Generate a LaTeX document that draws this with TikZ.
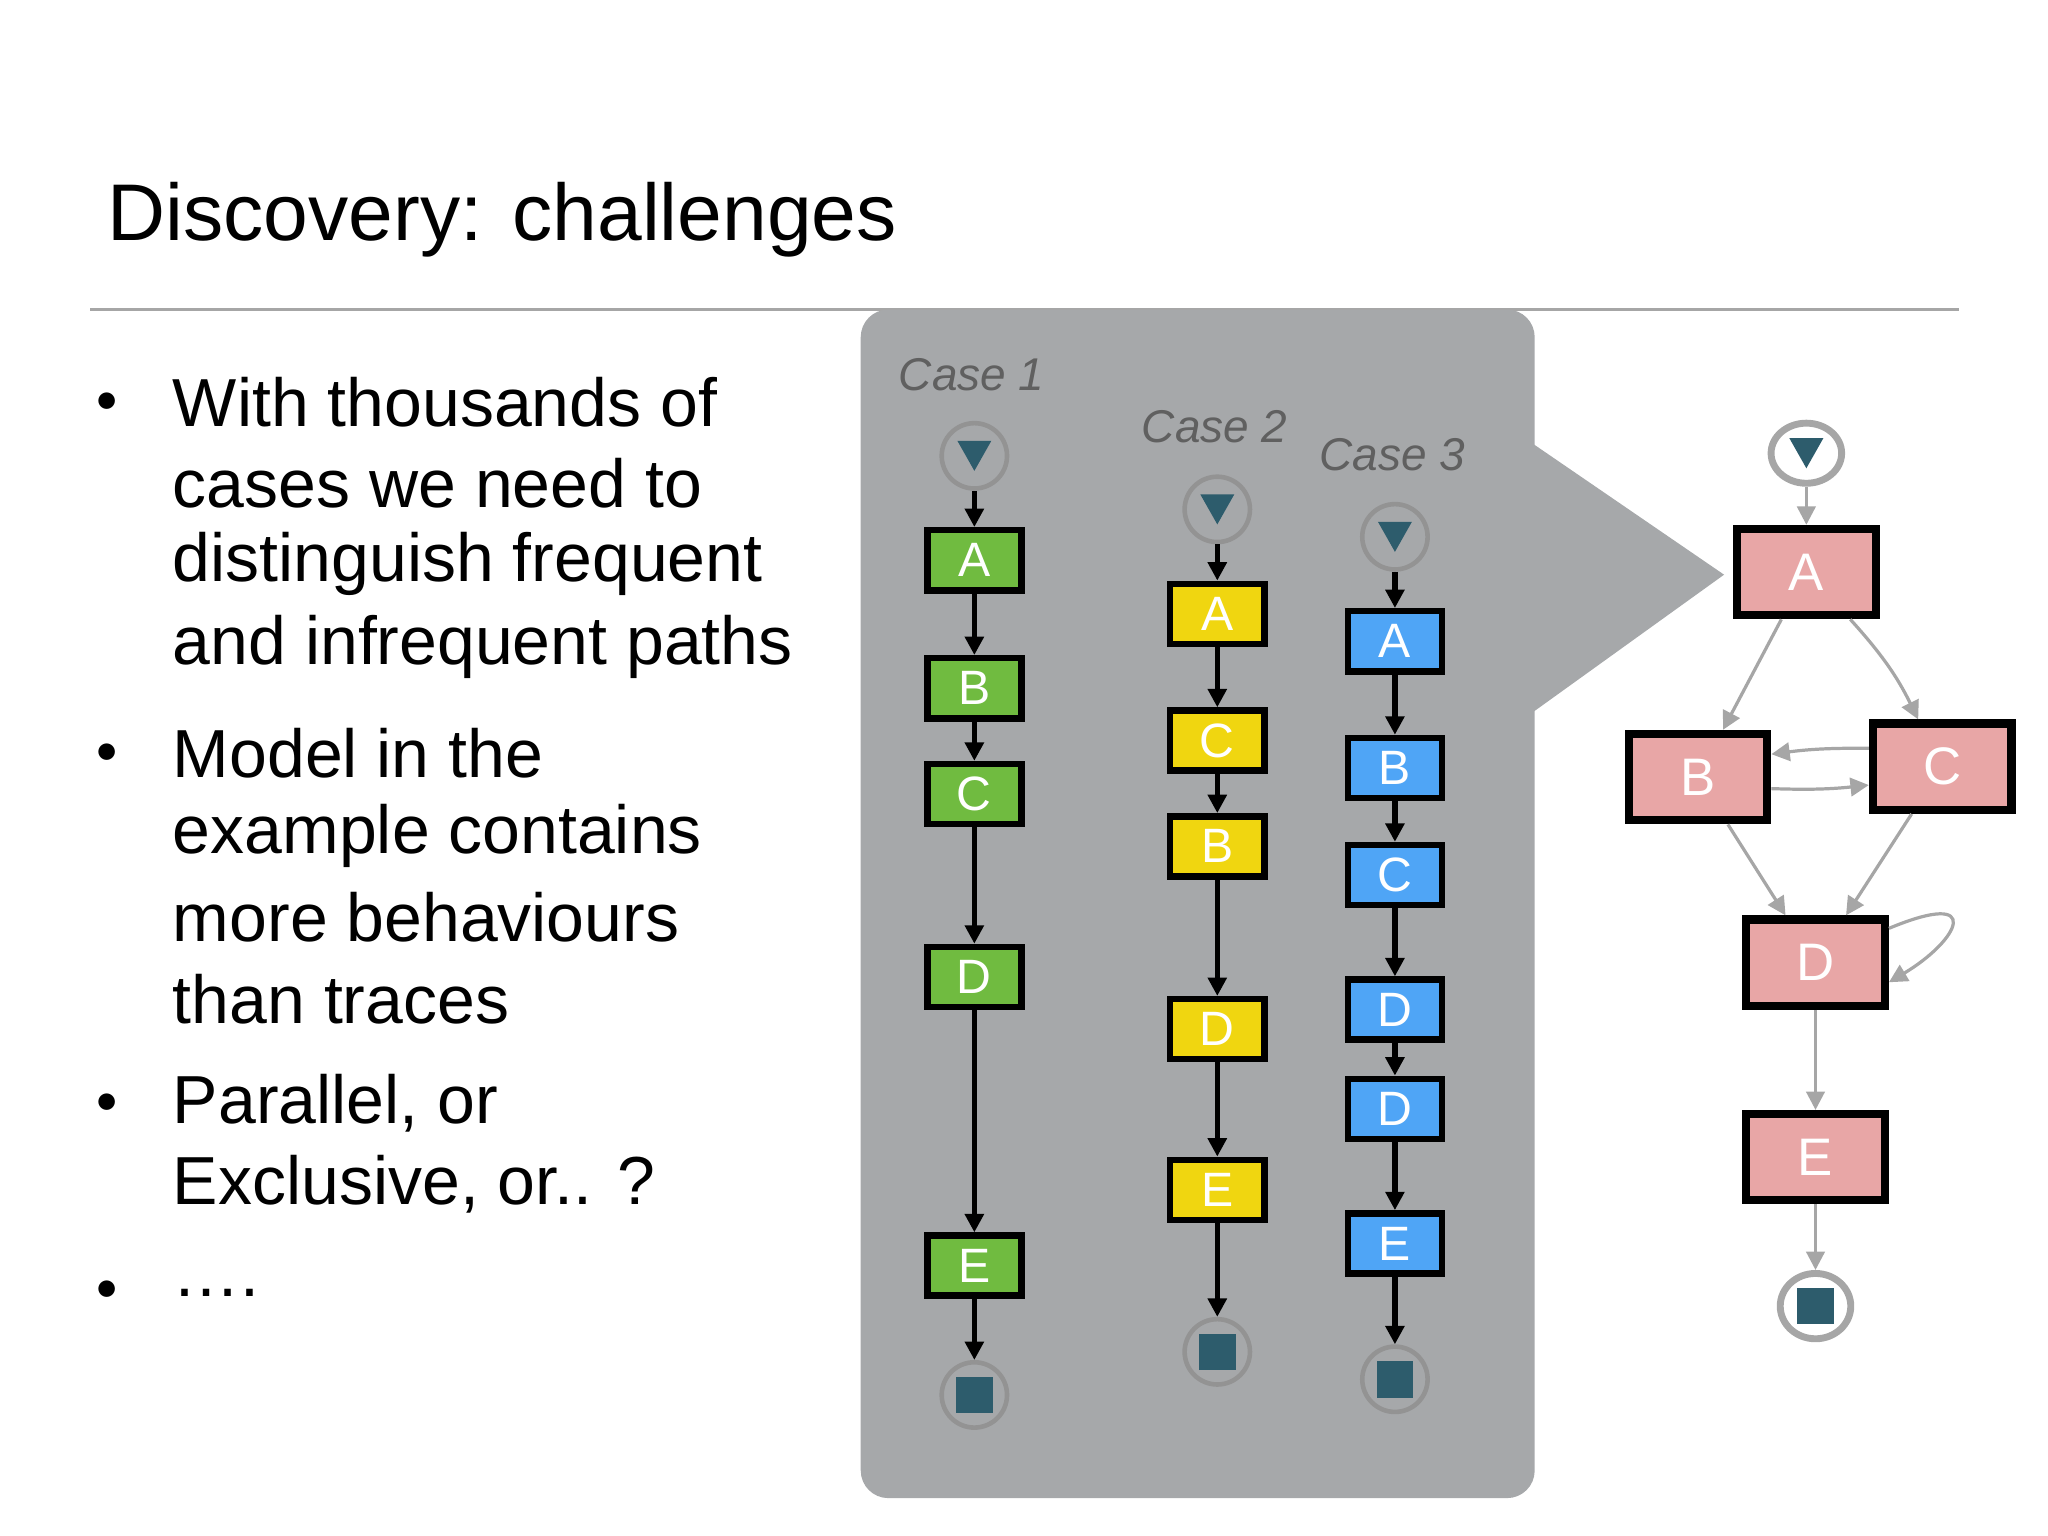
\documentclass[tikz,border=0pt]{standalone}
\usepackage{fontspec}
\setmainfont{Liberation Sans}
\usetikzlibrary{shapes.geometric,arrows.meta}
\definecolor{panelgray}{RGB}{166,168,170}
\definecolor{startblue}{RGB}{45,92,108}
\definecolor{caseGreen}{RGB}{112,187,64}
\definecolor{caseYellow}{RGB}{240,214,16}
\definecolor{caseBlue}{RGB}{79,165,246}
\definecolor{modelPink}{RGB}{232,166,166}
\tikzset{
  act/.style={draw=black,line width=1.4pt,minimum width=0.72cm,minimum height=0.46cm,inner sep=0pt,text=white,font=\fontsize{10.5}{10.5}\selectfont},
  mact/.style={draw=black,line width=1.8pt,fill=modelPink,minimum width=1.06cm,minimum height=0.66cm,inner sep=0pt,text=white,font=\fontsize{11.5}{11.5}\selectfont},
  evt/.style={circle,draw=gray!85,line width=1pt,minimum size=0.5cm,inner sep=0pt},
  flow/.style={-{Triangle[length=4pt,width=4pt]},line width=1.2pt},
  mflow/.style={-{Triangle[length=4pt,width=4pt]},draw=gray!70,line width=0.7pt},
  bul/.style={anchor=west,font=\fontsize{14.8}{14.8}\selectfont},
}
\newcommand{\starttri}{\tikz[x=1cm,y=1cm]\fill[startblue] (-0.13,0.1) -- (0.13,0.1) -- (0,-0.13) -- cycle;}
\newcommand{\stopsq}{\tikz[x=1cm,y=1cm]\fill[startblue] (0,0) rectangle (0.28,0.28);}
\begin{document}
\begin{tikzpicture}[x=0.01cm,y=-0.01cm]
  \useasboundingbox (0,0) rectangle (1568,1176);
  % title and rule
  \node[anchor=west,font=\fontsize{17.5}{17.5}\selectfont] (title) at (70,168) {Discovery: challenges};
  \draw[gray!70,line width=0.6pt] (69,237) -- (1500,237);

  % bullets
  \foreach \y in {308,577,845,988}
    \node[font=\small] at (82,\y) {$\bullet$};
  \node[bul] (t1) at (120,308) {With thousands of};
  \node[bul] at (120,370) {cases we need to};
  \node[bul] at (120,432) {distinguish frequent};
  \node[bul] at (120,495) {and infrequent paths};
  \node[bul] (t2) at (120,577) {Model in the};
  \node[bul] at (120,640) {example contains};
  \node[bul] at (120,702) {more behaviours};
  \node[bul] at (120,765) {than traces};
  \node[bul] (t3) at (120,845) {Parallel, or};
  \node[bul] at (120,907) {Exclusive, or.. ?};
  \node[bul] (t4) at (120,990) {\dots.};

  % gray panel with pointer
  \fill[panelgray,rounded corners=6pt] (659,237) rectangle (1175,1147);
  \fill[panelgray] (1174,340) -- (1320,440) -- (1174,545) -- cycle;

  % case labels
  \foreach \x/\y/\n in {744/287/1,930/327/2,1066/348/3}
    \node[text=gray!75!black,font=\itshape\fontsize{10}{10}\selectfont] (lab\n) at (\x,\y) {Case \n};

  % Case 1
  \node[evt] (s1) at (746,349) {\starttri};
  \node[act,fill=caseGreen] (a1) at (746,429) {A};
  \node[act,fill=caseGreen] (b1) at (746,527) {B};
  \node[act,fill=caseGreen] (c1) at (746,608) {C};
  \node[act,fill=caseGreen] (d1) at (746,748) {D};
  \node[act,fill=caseGreen] (e1) at (746,969) {E};
  \node[evt] (f1) at (746,1068) {\stopsq};
  \foreach \u/\v in {s1/a1,a1/b1,b1/c1,c1/d1,d1/e1,e1/f1}
    \draw[flow] (\u) -- (\v);

  % Case 2
  \node[evt] (s2) at (932,390) {\starttri};
  \node[act,fill=caseYellow] (a2) at (932,470) {A};
  \node[act,fill=caseYellow] (c2) at (932,567) {C};
  \node[act,fill=caseYellow] (b2) at (932,648) {B};
  \node[act,fill=caseYellow] (d2) at (932,788) {D};
  \node[act,fill=caseYellow] (e2) at (932,911) {E};
  \node[evt] (f2) at (932,1035) {\stopsq};
  \foreach \u/\v in {s2/a2,a2/c2,c2/b2,b2/d2,d2/e2,e2/f2}
    \draw[flow] (\u) -- (\v);

  % Case 3
  \node[evt] (s3) at (1068,411) {\starttri};
  \node[act,fill=caseBlue] (a3) at (1068,491) {A};
  \node[act,fill=caseBlue] (b3) at (1068,588) {B};
  \node[act,fill=caseBlue] (c3) at (1068,670) {C};
  \node[act,fill=caseBlue] (d3) at (1068,773) {D};
  \node[act,fill=caseBlue] (dd3) at (1068,849) {D};
  \node[act,fill=caseBlue] (e3) at (1068,952) {E};
  \node[evt] (f3) at (1068,1056) {\stopsq};
  \foreach \u/\v in {s3/a3,a3/b3,b3/c3,c3/d3,d3/dd3,dd3/e3,e3/f3}
    \draw[flow] (\u) -- (\v);

  % discovered model
  \node[ellipse,draw=gray!70,line width=1.5pt,fill=white,minimum width=0.54cm,minimum height=0.46cm,inner sep=0pt] (ms) at (1383,347) {\starttri};
  \node[mact] (ma) at (1383,438) {A};
  \node[mact] (mb) at (1300,595) {B};
  \node[mact] (mc) at (1487,587) {C};
  \node[mact] (md) at (1390,737) {D};
  \node[mact] (me) at (1390,886) {E};
  \node[ellipse,draw=gray!70,line width=1.5pt,fill=white,minimum width=0.54cm,minimum height=0.5cm,inner sep=0pt] (mf) at (1390,1000) {\stopsq};
  \draw[mflow] (ms) -- (ma);
  \draw[mflow] (ma) -- (mb);
  \draw[mflow] (ma) to[bend left=8] (mc);
  \draw[mflow] ([yshift=4pt]mc.west) to[bend right=4] ([yshift=5pt]mb.east);
  \draw[mflow] ([yshift=-2.5pt]mb.east) to[bend right=4] ([yshift=-4pt]mc.west);
  \draw[mflow] (mb) -- (md);
  \draw[mflow] (mc) -- (md);
  \draw[mflow] (md.25) .. controls (1520,680) and (1500,720) .. (md.-15);
  \draw[mflow] (md) -- (me);
  \draw[mflow] (me) -- (mf);
\end{tikzpicture}
\end{document}
